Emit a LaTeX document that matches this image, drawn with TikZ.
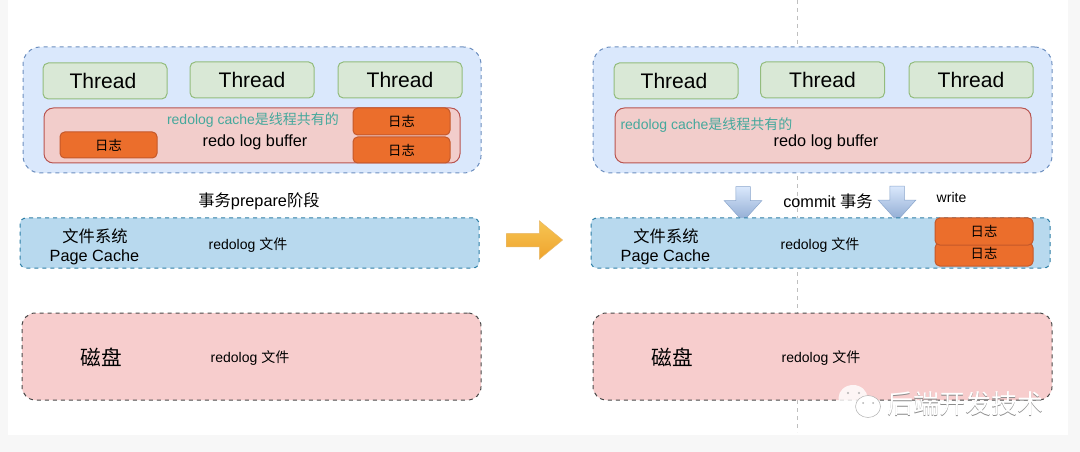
\documentclass[tikz,border=0pt]{standalone}
\usepackage{fontspec}
\setmainfont{Liberation Sans}
\newfontfamily\cjk{Noto Sans CJK SC}
\usetikzlibrary{shapes.arrows}

\definecolor{panelfill}{HTML}{DAE8FC}
\definecolor{paneldraw}{HTML}{6C8EBF}
\definecolor{threadfill}{HTML}{D9E8D6}
\definecolor{threaddraw}{HTML}{93BC7D}
\definecolor{bufferfill}{HTML}{F2CDCB}
\definecolor{bufferdraw}{HTML}{B85450}
\definecolor{logfill}{HTML}{EB6E2C}
\definecolor{logdraw}{HTML}{C4582A}
\definecolor{cachefill}{HTML}{B8D9EE}
\definecolor{cachedraw}{HTML}{2F7FA6}
\definecolor{diskfill}{HTML}{F7CDCD}
\definecolor{diskdraw}{HTML}{4A4A4A}
\definecolor{noteteal}{HTML}{45A89C}
\definecolor{steptop}{HTML}{F6C554}
\definecolor{stepbottom}{HTML}{EFA32C}
\definecolor{stepdraw}{HTML}{E8B96A}

\newcommand{\px}{0.75pt}
\newcommand{\fs}[1]{\fontsize{#1}{#1}\selectfont}

\tikzset{
    box/.style 2 args={minimum width=#1*\px, minimum height=#2*\px, inner sep=0pt, outer sep=0pt, line width=\px},
    panel/.style={draw=paneldraw, fill=panelfill, dashed, rounded corners=13pt},
    thread/.style={box={124}{36}, draw=threaddraw, fill=threadfill, rounded corners=4pt, font=\fs{15.8}},
    buffer/.style={box={416}{55}, draw=bufferdraw, fill=bufferfill, rounded corners=7pt},
    logbox/.style={draw=logdraw, fill=logfill, rounded corners=3.5pt, font=\cjk\fs{10}},
    cache/.style={box={459}{50}, draw=cachedraw, fill=cachefill, dashed, rounded corners=4.5pt},
    disk/.style={box={459}{87}, draw=diskdraw, fill=diskfill, dashed, rounded corners=10pt},
    label/.style={inner sep=0pt, font=\fs{12.2}},
    small/.style={inner sep=0pt, font=\fs{10.5}},
    down/.style={single arrow, shape border rotate=270, minimum height=35*\px, minimum width=37*\px,
        single arrow head extend=11.5*\px, single arrow tip angle=84, inner sep=7*\px, outer sep=0pt,
        draw=paneldraw!80, line width=0.5*\px, top color=panelfill, bottom color=paneldraw!70!panelfill},
}

\begin{document}
\begin{tikzpicture}[x=0.75pt, y=-0.75pt]

    % Fix the page and its margins
    \useasboundingbox (0,0) rectangle (1080,452);
    \fill[black!3] (0,0) rectangle (1080,452);
    \fill[white] (8,0) rectangle (1068,435);

    % Draw the dashed divider
    \coordinate (top) at (797,0);
    \coordinate (bottom) at (797,432);
    \draw[black!25, dashed, line width=\px] (top) -- (bottom);

    % Draw the left panel
    \node[panel, box={458}{126}] (leftpanel) at (252,110) {};
    \node[thread] (leftthreadA) at (105,81) {Thread\kern3pt\null};
    \node[thread] (leftthreadB) at (252,80) {Thread};
    \node[thread] (leftthreadC) at (400,80) {Thread};
    \node[buffer] (leftbuffer) at (252,135.5) {};
    \node[logbox, box={97}{26}] (leftlogA) at (108.5,145) {日志};
    \node[logbox, box={97}{27}] (leftlogB) at (401.5,121.5) {日志};
    \node[logbox, box={97}{26}] (leftlogC) at (401.5,150) {日志};
    \node[small, text=noteteal] (leftnote) at (253,120) {redolog cache{\cjk 是线程共有的}};
    \node[label] (leftbuffername) at (255,142) {redo log buffer};

    % Label the prepare step
    \node[label] (prepare) at (259,201) {{\cjk 事务}prepare{\cjk 阶段}};

    % Draw the left page cache
    \node[cache] (leftcache) at (249.5,243) {};
    \node[label, font=\cjk\fs{12.2}] (leftfs) at (95,236) {文件系统};
    \node[label] (leftpc) at (94.5,257) {Page Cache};
    \node[small] (leftfile) at (248,245) {redolog {\cjk 文件}};

    % Draw the left disk
    \node[disk] (leftdisk) at (251.5,356.5) {};
    \node[label, font=\cjk\fs{15.5}] (leftdiskname) at (101.5,357) {磁盘};
    \node[small] (leftdiskfile) at (250,358) {redolog {\cjk 文件}};

    % Draw the step arrow
    \node[single arrow, minimum height=56*\px, minimum width=38*\px, single arrow head extend=12.5*\px,
        single arrow tip angle=79, inner sep=6.5*\px, outer sep=0pt, draw=stepdraw, line width=0.5*\px,
        top color=steptop, bottom color=stepbottom] (step) at (530.5,240) {};

    % Draw the right panel
    \node[panel, box={459}{126}] (rightpanel) at (822.5,110) {};
    \node[thread] (rightthreadA) at (676,81) {Thread\kern3pt\null};
    \node[thread] (rightthreadB) at (822.5,80) {Thread};
    \node[thread] (rightthreadC) at (971,80) {Thread};
    \node[buffer] (rightbuffer) at (823,135.5) {};
    \node[small, text=noteteal] (rightnote) at (706.5,125) {redolog cache{\cjk 是线程共有的}};
    \node[label] (rightbuffername) at (826,142) {redo log buffer};

    % Draw the commit arrows
    \node[down] (commitA) at (743,200) {};
    \node[down] (commitB) at (897,199.5) {};
    \node[label] (commit) at (828,201) {commit {\cjk 事务}};
    \node[small] (write) at (951.5,197) {write};

    % Draw the right page cache
    \node[cache] (rightcache) at (820.5,243) {};
    \node[logbox, box={98}{23}] (rightlogB) at (984,254.5) {};
    \node[logbox, box={98}{27}] (rightlogA) at (984,231.5) {日志};
    \node[inner sep=0pt, font=\cjk\fs{10}] (rightlogBname) at (984,253) {日志};
    \node[label, font=\cjk\fs{12.2}] (rightfs) at (666,236) {文件系统};
    \node[label] (rightpc) at (665.5,257) {Page Cache};
    \node[small] (rightfile) at (820,245) {redolog {\cjk 文件}};

    % Draw the right disk
    \node[disk] (rightdisk) at (822.5,356.5) {};
    \node[label, font=\cjk\fs{15.5}] (rightdiskname) at (672.5,357) {磁盘};
    \node[small] (rightdiskfile) at (821,358) {redolog {\cjk 文件}};

    % Draw the watermark
    \fill[white, opacity=0.8] (853,398) ellipse (14.5 and 13);
    \fill[white, opacity=0.8] (843,408) -- (840,413) -- (850,410) -- cycle;
    \fill[black!30] (848,393) circle (1.2) (859,393) circle (1.2);
    \draw[black!30, fill=white, line width=0.5*\px] (868,406.5) ellipse (12.5 and 11);
    \fill[black!30] (863,403) circle (1) (873,403) circle (1);
    \node[inner sep=0pt, text=black!45, font=\cjk\fs{19.5}] (markshadow) at (965.7,404.7) {后端开发技术};
    \node[inner sep=0pt, text=white, font=\cjk\fs{19.5}] (mark) at (965,404) {后端开发技术};

\end{tikzpicture}
\end{document}
